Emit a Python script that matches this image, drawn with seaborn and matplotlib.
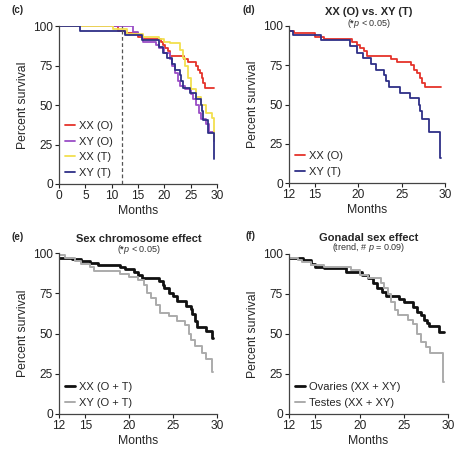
import matplotlib
matplotlib.use("Agg")
import matplotlib.pyplot as plt
import seaborn as sns
import pandas as pd

# (c) four groups, step change points (months, percent survival)
xx_o_m = [0, 11.2, 12.6, 15.0, 16.0, 19.3, 19.8, 20.2, 20.7, 21.0, 23.8, 24.5, 26.1, 26.4, 26.8, 27.1, 27.4, 27.7, 29.5]
xx_o_s = [100, 97, 95.5, 93, 91.5, 90, 88, 86, 84, 81, 79, 77, 75, 72, 70, 67, 64, 61, 61]
xy_o_m = [0, 14.0, 15.0, 16.0, 18.5, 19.0, 20.0, 21.0, 21.5, 22.0, 22.5, 23.0, 24.0, 25.0, 25.5, 26.0, 26.5, 27.0, 28.0, 28.5, 29.4, 29.5]
xy_o_s = [100, 96, 94, 90, 88, 86, 83, 79, 75, 70, 65, 62, 60, 57, 54, 50, 45, 41, 38, 33, 27, 27]
xx_t_m = [0, 10.2, 13.0, 16.0, 19.0, 20.0, 21.0, 23.0, 23.5, 24.0, 24.5, 25.0, 26.0, 27.0, 28.0, 29.0, 29.4, 29.5]
xx_t_s = [100, 98, 95, 93, 92, 90, 89, 85, 80, 75, 67, 60, 55, 50, 45, 42, 40, 28]
xy_t_m = [0, 4, 12.5, 15.7, 19.0, 19.8, 20.5, 21.5, 22.0, 23.0, 23.2, 23.5, 24.8, 26.0, 27.0, 27.1, 27.3, 28.2, 29.4, 29.5]
xy_t_s = [100, 97, 94.5, 91, 87, 83, 79.5, 76, 72, 69, 65, 61, 57.5, 54, 50, 46, 40.5, 32.5, 16, 16]

# (e) sex chromosome
xx_ot_m = [12, 13.5, 14.5, 15.5, 16.5, 19.0, 19.5, 20.5, 21.0, 21.5, 23.4, 23.8, 24.0, 24.5, 25.0, 25.5, 26.5, 27.0, 27.2, 27.5, 27.7, 28.8, 29.4, 29.5]
xx_ot_s = [97, 96, 95, 94, 92.5, 91, 90, 88, 86.5, 84.5, 82.5, 80, 78, 75, 73, 70, 67, 65, 62, 58, 54, 51.5, 47, 47]
xy_ot_m = [12, 12.7, 13.8, 14.5, 15.5, 16.0, 19.0, 20.0, 21.0, 21.7, 22.0, 22.5, 23.0, 23.5, 24.5, 25.5, 26.3, 26.8, 27.0, 27.5, 28.3, 28.8, 29.4, 29.5]
xy_ot_s = [98.5, 97, 95, 93, 91, 89, 87, 85, 83, 80, 75, 72, 68, 63, 61, 58, 55, 50, 46, 42, 38, 34, 26, 26]

# (f) gonadal sex
ov_m = [12, 13.6, 14.5, 15.0, 16.0, 18.5, 20.3, 21.0, 21.5, 22.0, 22.5, 23.0, 24.5, 25.0, 26.0, 26.5, 27.0, 27.3, 27.6, 27.8, 29.0, 29.5]
ov_s = [97.5, 96, 94, 92, 91, 89, 87, 85, 82, 79, 76, 74, 72, 70, 67, 64, 62, 59, 57, 55, 51, 51]
te_m = [12, 13.0, 13.5, 14.5, 16.0, 19.0, 20.0, 21.0, 22.4, 22.8, 23.2, 23.5, 24.0, 24.3, 25.5, 26.0, 26.5, 27.0, 27.5, 28.0, 29.4, 29.5]
te_s = [97.5, 96, 95, 93, 92, 90, 87, 85, 82, 79, 75, 70, 65, 62, 59, 56, 50, 45, 42, 38, 20, 20]

y_ticks = [0, 25, 50, 75, 100]


def frame(groups):
    rows = []
    for name, m, s in groups:
        rows += [{"group": name, "month": a, "surv": b} for a, b in zip(m, s)]
    return pd.DataFrame(rows)


sns.set_style("ticks")
plt.rcParams["font.family"] = ["Liberation Sans", "DejaVu Sans"]
plt.rcParams["mathtext.fontset"] = "custom"
plt.rcParams["mathtext.rm"] = "Liberation Sans"
plt.rcParams["mathtext.it"] = "Liberation Sans:italic"
plt.rcParams["mathtext.bf"] = "Liberation Sans:bold"

W, H = 464, 449
fig = plt.figure(figsize=(W / 100, H / 100), dpi=100)


def add_ax(l, t, r, b):
    return fig.add_axes([l / W, 1 - b / H, (r - l) / W, (b - t) / H])


def style(ax, xticks, xlim):
    ax.set_xlim(*xlim)
    ax.set_ylim(0, 100)
    ax.set_xticks(xticks)
    ax.set_yticks(y_ticks)
    ax.tick_params(labelsize=8.6, length=3, width=0.8, pad=1.5, colors="#222222")
    for sp in ["left", "bottom"]:
        ax.spines[sp].set_linewidth(0.9)
        ax.spines[sp].set_color("#444444")
    sns.despine(ax=ax)
    ax.set_xlabel("Months", fontsize=8.8, labelpad=2)
    ax.set_ylabel("Percent survival", fontsize=8.8, labelpad=3)
    leg = ax.legend(loc="lower left", frameon=False, fontsize=8, handlelength=0.9,
                    handletextpad=0.35, labelspacing=0.5, borderaxespad=0.15,
                    bbox_to_anchor=(0.0, 0.0))
    return leg


def ptxt(x, y, s, **kw):
    fig.text(x / W, 1 - y / H, s, **kw)


# (c)
ax_c = add_ax(59, 26, 217, 184)
df_c = frame([("XX (O)", xx_o_m, xx_o_s), ("XY (O)", xy_o_m, xy_o_s),
              ("XX (T)", xx_t_m, xx_t_s), ("XY (T)", xy_t_m, xy_t_s)])
pal_c = {"XX (O)": "#e5332a", "XY (O)": "#9a4dc6", "XX (T)": "#f2df4e", "XY (T)": "#2e2f87"}
sns.lineplot(data=df_c, x="month", y="surv", hue="group", palette=pal_c,
             drawstyle="steps-post", linewidth=1.3, ax=ax_c)
ax_c.axvline(12, color="#555555", linestyle="--", linewidth=0.9, dashes=(3, 2))
style(ax_c, [0, 5, 10, 15, 20, 25, 30], (0, 30))

# (d)
ax_d = add_ax(289, 26, 445, 183)
df_d = frame([("XX (O)", xx_o_m, xx_o_s), ("XY (T)", xy_t_m, xy_t_s)])
sns.lineplot(data=df_d, x="month", y="surv", hue="group",
             palette={"XX (O)": "#e5332a", "XY (T)": "#2e2f87"},
             drawstyle="steps-post", linewidth=1.3, ax=ax_d)
style(ax_d, [12, 15, 20, 25, 30], (12, 30))

# (e)
ax_e = add_ax(59, 253, 217, 414)
df_e = frame([("XX (O + T)", xx_ot_m, xx_ot_s), ("XY (O + T)", xy_ot_m, xy_ot_s)])
sns.lineplot(data=df_e, x="month", y="surv", hue="group", size="group",
             sizes={"XX (O + T)": 2.0, "XY (O + T)": 1.4},
             palette={"XX (O + T)": "#111111", "XY (O + T)": "#ababab"},
             drawstyle="steps-post", ax=ax_e)
style(ax_e, [12, 15, 20, 25, 30], (12, 30))

# (f)
ax_f = add_ax(289, 254, 448, 414)
df_f = frame([("Ovaries (XX + XY)", ov_m, ov_s), ("Testes (XX + XY)", te_m, te_s)])
sns.lineplot(data=df_f, x="month", y="surv", hue="group", size="group",
             sizes={"Ovaries (XX + XY)": 2.0, "Testes (XX + XY)": 1.4},
             palette={"Ovaries (XX + XY)": "#111111", "Testes (XX + XY)": "#ababab"},
             drawstyle="steps-post", ax=ax_f)
style(ax_f, [12, 15, 20, 25, 30], (12, 30))

# panel labels and titles
for x, y, s in [(12, 10, "(c)"), (243, 10, "(d)"), (12, 237, "(e)"), (245, 236, "(f)")]:
    ptxt(x, y, s, fontsize=7, fontweight="bold", va="center")

ptxt(369, 12, "XX (O) vs. XY (T)", fontsize=8, fontweight="bold", ha="center", va="center")
ptxt(369, 23, r"($\mathbf{*}\mathit{p}$ < 0.05)", fontsize=6.5, ha="center", va="center", color="#333333")
ptxt(139, 239, "Sex chromosome effect", fontsize=8, fontweight="bold", ha="center", va="center")
ptxt(139, 249, r"($\mathbf{*}\mathit{p}$ < 0.05)", fontsize=6.5, ha="center", va="center", color="#333333")
ptxt(369, 238, "Gonadal sex effect", fontsize=8, fontweight="bold", ha="center", va="center")
ptxt(369, 248, r"(trend, # $\mathit{p}$ = 0.09)", fontsize=6.5, ha="center", va="center", color="#333333")

fig.savefig("out.png", dpi=100)
